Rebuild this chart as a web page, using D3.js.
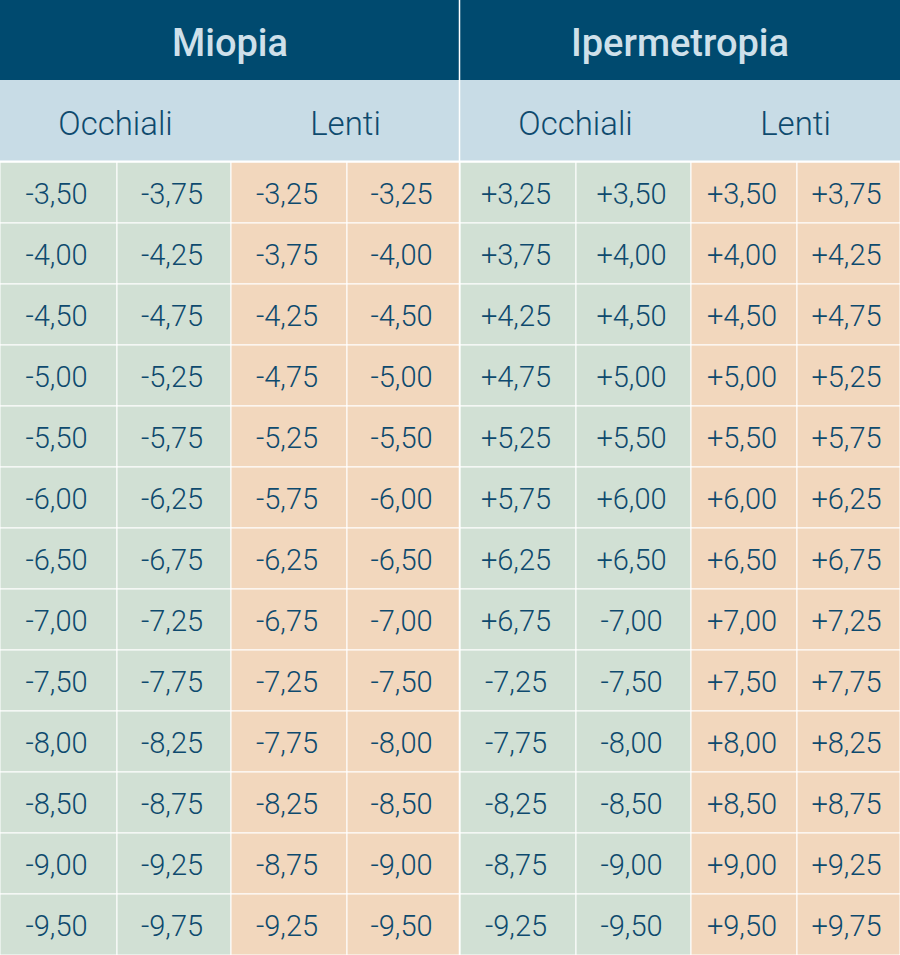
<!DOCTYPE html><html><head><meta charset="utf-8"><script src="https://cdn.jsdelivr.net/npm/d3@7"></script>
<style>body{margin:0;background:#fff}</style></head><body><svg id="c" width="900" height="955"></svg>
<script>
const groups=["Miopia","Ipermetropia"];
const subgroups=["Occhiali","Lenti","Occhiali","Lenti"];
const colKinds=["o","o","l","l","o","o","l","l"];
const miopiaOcchiali=[["-3,50","-3,75"],["-4,00","-4,25"],["-4,50","-4,75"],["-5,00","-5,25"],["-5,50","-5,75"],["-6,00","-6,25"],["-6,50","-6,75"],["-7,00","-7,25"],["-7,50","-7,75"],["-8,00","-8,25"],["-8,50","-8,75"],["-9,00","-9,25"],["-9,50","-9,75"]];
const miopiaLenti=[["-3,25","-3,25"],["-3,75","-4,00"],["-4,25","-4,50"],["-4,75","-5,00"],["-5,25","-5,50"],["-5,75","-6,00"],["-6,25","-6,50"],["-6,75","-7,00"],["-7,25","-7,50"],["-7,75","-8,00"],["-8,25","-8,50"],["-8,75","-9,00"],["-9,25","-9,50"]];
const iperOcchiali=[["+3,25","+3,50"],["+3,75","+4,00"],["+4,25","+4,50"],["+4,75","+5,00"],["+5,25","+5,50"],["+5,75","+6,00"],["+6,25","+6,50"],["+6,75","-7,00"],["-7,25","-7,50"],["-7,75","-8,00"],["-8,25","-8,50"],["-8,75","-9,00"],["-9,25","-9,50"]];
const iperLenti=[["+3,50","+3,75"],["+4,00","+4,25"],["+4,50","+4,75"],["+5,00","+5,25"],["+5,50","+5,75"],["+6,00","+6,25"],["+6,50","+6,75"],["+7,00","+7,25"],["+7,50","+7,75"],["+8,00","+8,25"],["+8,50","+8,75"],["+9,00","+9,25"],["+9,50","+9,75"]];

const rows=miopiaOcchiali.map((_,i)=>[...miopiaOcchiali[i],...miopiaLenti[i],...iperOcchiali[i],...iperLenti[i]]);
const colEdges=[0,117,231,347,460,576,691,797,900];
const groupEdges=[0,460,900];
const svg=d3.select("#c");
const dark="#004a6f", light="#c8dce6", green="#d1e0d4", orange="#f2d7bd", txt="#0e4a6e";
const font="Roboto, sans-serif";
const y=d3.scaleBand().domain(d3.range(rows.length)).range([162,955]);
// header
svg.selectAll(".g").data(groups).join("rect").attr("x",(d,i)=>groupEdges[i]).attr("y",0).attr("width",(d,i)=>groupEdges[i+1]-groupEdges[i]).attr("height",80).attr("fill",dark);
svg.selectAll(".gt").data(groups).join("text").attr("x",(d,i)=>(groupEdges[i]+groupEdges[i+1])/2).attr("y",56).attr("text-anchor","middle").attr("fill","#cfe0ea").attr("font-family",font).attr("font-weight",500).attr("font-size",38).text(d=>d);
svg.append("rect").attr("x",0).attr("y",80).attr("width",900).attr("height",82).attr("fill",light);
svg.selectAll(".st").data(subgroups).join("text").attr("x",(d,i)=>(colEdges[i*2]+colEdges[i*2+2])/2).attr("y",135).attr("text-anchor","middle").attr("fill",txt).attr("font-family",font).attr("font-weight",300).attr("font-size",33).text(d=>d);
// cells
const cells=[];rows.forEach((r,i)=>r.forEach((v,j)=>cells.push({i,j,v})));
svg.selectAll(".cell").data(cells).join("rect").attr("x",d=>colEdges[d.j]).attr("y",d=>y(d.i)).attr("width",d=>colEdges[d.j+1]-colEdges[d.j]).attr("height",y.bandwidth()).attr("fill",d=>colKinds[d.j]=="o"?green:orange).attr("stroke","#fff").attr("stroke-width",1);
svg.selectAll(".ct").data(cells).join("text").attr("x",d=>(colEdges[d.j]+colEdges[d.j+1])/2-2).attr("y",d=>y(d.i)+y.bandwidth()/2+11).attr("text-anchor","middle").attr("fill",txt).attr("font-family",font).attr("font-weight",300).attr("font-size",29).text(d=>d.v);
// separators
svg.append("line").attr("x1",459.5).attr("x2",459.5).attr("y1",0).attr("y2",955).attr("stroke","#fff").attr("stroke-width",1.5);
svg.append("line").attr("x1",0).attr("x2",900).attr("y1",161.5).attr("y2",161.5).attr("stroke","#fff").attr("stroke-width",2);
</script></body></html>
